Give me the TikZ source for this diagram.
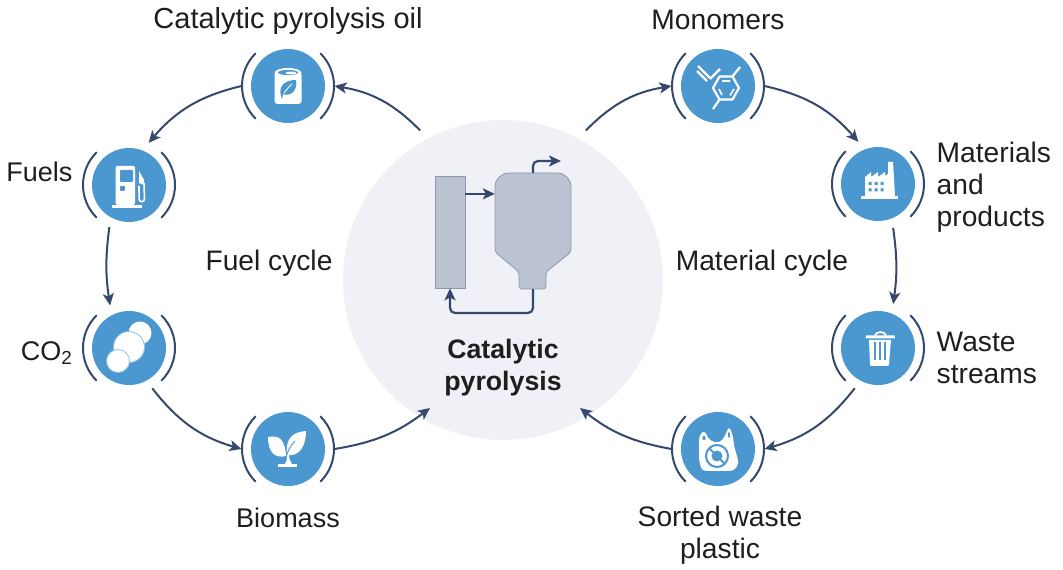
\documentclass[tikz,border=0pt]{standalone}
\usepackage{fontspec}
\setmainfont{Liberation Sans}
\usetikzlibrary{arrows.meta,positioning}
\definecolor{navy}{HTML}{34496B}
\definecolor{iconblue}{HTML}{4B97D0}
\definecolor{hubgrey}{HTML}{EFF1F6}
\definecolor{steel}{HTML}{BBC3D2}
\definecolor{steelline}{HTML}{8D99AF}
\definecolor{inktext}{HTML}{1E1E1E}
\tikzset{
  icon/.style={circle,fill=iconblue,minimum size=74pt,inner sep=0pt,outer sep=9.5pt},
  bracket/.style={draw=navy,line width=2pt,line cap=round},
  flow/.style={draw=navy,line width=2pt,-{Stealth[length=12pt,width=11pt,inset=3pt]}},
  pipe/.style={draw=navy,line width=2.2pt,rounded corners=5pt,-{Stealth[length=12pt,width=11pt,inset=3pt]}},
  lbl/.style={inner sep=0pt,text=inktext,align=left},
  lblmid/.style={inner sep=0pt,text=inktext,align=center}
}
\begin{document}
\begin{tikzpicture}[x=1pt,y=1pt,every node/.style={font=\fontsize{28.2}{32}\selectfont}]
\useasboundingbox (0,0) rectangle (1063,570);
\node[circle,fill=hubgrey,minimum size=320pt,inner sep=0pt,outer sep=11pt] (hub) at (503,290) {};
\coordinate (backleft) at (430,162);
\coordinate (backright) at (580,162);

% reactor
\node[draw=steelline,fill=steel,line width=0.8pt,minimum width=30pt,minimum height=112pt,inner sep=0pt] (column) at (450,338) {};
\draw[draw=steelline,fill=steel,line width=0.8pt,rounded corners=3pt] (519,281) -- (519,298) -- (495,318) -- (495,350) [rounded corners=14pt] -- (495,397) -- (571,397) -- (571,350) [rounded corners=3pt] -- (571,318) -- (546,298) -- (546,281) -- cycle;
\node[minimum width=76pt,minimum height=116pt,inner sep=0pt] (vessel) at (533,339) {};
\coordinate (vent) at (561,409);
\coordinate (recycle) at (450,257);
\draw[pipe] (column.68) -- (vessel.west |- column.68);
\draw[pipe] (vessel.north) |- (vent);
\draw[pipe] (vessel.south) |- (recycle) -- (column.south);

\node[lblmid,font=\fontsize{26.7}{32}\selectfont\bfseries] (hubname) at (503,202) {Catalytic\\pyrolysis};
\node[lblmid] (fuelcycle) at (269,307) {Fuel cycle};
\node[lblmid] (materialcycle) at (762,307) {Material cycle};

% icons
\node[icon] (oil) at (288,484) {};
\node[icon] (fuels) at (129,385) {};
\node[icon] (co2) at (129,222) {};
\node[icon] (biomass) at (288,121) {};
\node[icon] (monomers) at (718,484) {};
\node[icon] (factory) at (878,386) {};
\node[icon] (waste) at (878,222) {};
\node[icon] (plastic) at (718,121) {};

\draw[bracket,shift={(oil)}] (135:46) arc (135:225:46) (-45:46) arc (-45:45:46);
\draw[bracket,shift={(fuels)}] (135:46) arc (135:225:46) (-45:46) arc (-45:45:46);
\draw[bracket,shift={(co2)}] (135:46) arc (135:225:46) (-45:46) arc (-45:45:46);
\draw[bracket,shift={(biomass)}] (135:46) arc (135:225:46) (-45:46) arc (-45:45:46);
\draw[bracket,shift={(monomers)}] (135:46) arc (135:225:46) (-45:46) arc (-45:45:46);
\draw[bracket,shift={(factory)}] (135:46) arc (135:225:46) (-45:46) arc (-45:45:46);
\draw[bracket,shift={(waste)}] (135:46) arc (135:225:46) (-45:46) arc (-45:45:46);
\draw[bracket,shift={(plastic)}] (135:46) arc (135:225:46) (-45:46) arc (-45:45:46);

% barrel
\begin{scope}[shift={(oil)}]
\fill[white,rounded corners=3pt] (-13.5,-18) rectangle (13.5,14);
\fill[white] (0,13) ellipse (13.5 and 5);
\fill[iconblue] (0,13.5) ellipse (10 and 2.6);
\fill[white] (3,13) ellipse (5.5 and 1.4);
\fill[iconblue] (-7,-10) .. controls (-10,0) and (-3,6) .. (8,6) .. controls (10,-4) and (3,-11) .. (-5,-8) -- (-6,-13) -- cycle;
\draw[white,line width=0.9pt] (-4,-7) .. controls (-1,-3) and (1,-1) .. (4,2);
\end{scope}

% pump
\begin{scope}[shift={(fuels)}]
\fill[white,rounded corners=1.5pt] (-13.5,19) rectangle (6,-20);
\fill[white] (-17,-20) rectangle (13,-23);
\fill[iconblue,rounded corners=1pt] (-9,15) rectangle (4,3);
\fill[iconblue,rounded corners=1pt] (-9,-1) rectangle (-4,-6);
\fill[white] (10,14) -- (15,5) -- (15,0) -- (10,2) -- cycle;
\draw[white,line width=1.6pt] (15,2) -- (15.5,-14) arc (0:-180:2.7) -- (10,-1);
\end{scope}

% gas bubbles
\begin{scope}[shift={(co2)}]
\fill[white] (11,15) circle (11.5);
\fill[white,draw=iconblue!60,line width=0.8pt] (0,1) circle (15.5);
\fill[white,draw=iconblue!60,line width=0.8pt] (-11,-13) circle (11.5);
\end{scope}

% seedling
\begin{scope}[shift={(biomass)}]
\fill[white] (-10,-15) rectangle (9,-18.5);
\fill[white] (-3,-15) .. controls (-1,-12) and (-1,-10) .. (-1,-5) -- (1,-5) .. controls (1,-10) and (2,-12) .. (4,-15) -- cycle;
\fill[white] (-20,12) .. controls (-10,14) and (-3,11) .. (-2,-7) .. controls (-14,-10) and (-20,-2) .. (-20,12) -- cycle;
\fill[white] (18,18) .. controls (6,17) and (-3,12) .. (-1,-6) .. controls (12,-8) and (18,4) .. (18,18) -- cycle;
\draw[iconblue,line width=0.9pt] (-2,-8) .. controls (0,-2) and (2,3) .. (7,8);
\end{scope}

% molecule
\begin{scope}[shift={(monomers)}]
\draw[white,line width=2.2pt,line join=round] (21,-2) -- (14.5,9.5) -- (1.5,9.5) -- (-5,-2) -- (1.5,-13.5) -- (14.5,-13.5) -- cycle;
\draw[white,line width=1.6pt] (4,5) -- (12,5) (16,-3) -- (12,-9.5) (4,-9) -- (1,-3);
\draw[white,line width=2.2pt] (14.5,9.5) -- (22,19) (1.5,-13.5) -- (-5,-23);
\draw[white,line width=2.2pt] (-20,20) -- (-8,8) (-21,15) -- (-11,5) (-8,7) -- (2,17);
\end{scope}

% factory
\begin{scope}[shift={(factory)}]
\fill[white] (-17,-12) rectangle (20,-15);
\fill[white] (-13,-12) -- (-13,7) -- (-7,12) -- (-7,7) -- (0,12) -- (0,7) -- (7,12) -- (7,-12) -- cycle;
\fill[white] (5,-12) -- (5,7) -- (10,10) -- (10,22) -- (15,22) -- (17,-12) -- cycle;
\fill[iconblue] (-9.5,-0.8) rectangle (-6.5,2.2) (-3.5,-0.8) rectangle (-0.5,2.2) (2.5,-0.8) rectangle (5.5,2.2);
\fill[iconblue] (-9.5,-7.5) rectangle (-6.5,-4.5) (-3.5,-7.5) rectangle (-0.5,-4.5) (2.5,-7.5) rectangle (5.5,-4.5);
\end{scope}

% bin
\begin{scope}[shift={(waste)}]
\fill[white] (-9,8) -- (13,8) -- (11,-16) .. controls (11,-18) and (10,-18) .. (9,-18) -- (-6,-18) .. controls (-7,-18) and (-8,-18) .. (-8,-16) -- cycle;
\fill[white] (-12,12.5) -- (16.5,12.5) -- (17,9.5) -- (-12.5,9.5) -- cycle;
\draw[white,line width=1.8pt] (-3,12.5) .. controls (-2,17) and (7,17) .. (8,12.5);
\draw[iconblue,line width=1.6pt] (-3,6) -- (-3,-12) (2.2,6) -- (2.2,-12) (7,6) -- (7,-12);
\end{scope}

% carrier bag
\begin{scope}[shift={(plastic)}]
\fill[white,rounded corners=4pt] (-14,19) -- (-8,8) -- (2,6) -- (7,13) -- (11,23) -- (15,13) -- (16,3) -- (21,-14) -- (16,-22) -- (-16,-22) -- (-19,-12) -- (-19,3) -- (-19,13) -- cycle;
\fill[iconblue] (-14,11) ellipse (1.6 and 2.2);
\fill[iconblue] (11,14) ellipse (1 and 3);
\draw[iconblue,line width=2pt] (-1,-7) circle (11);
\fill[iconblue] (-1,-7) circle (5.5);
\draw[white,line width=1.2pt] (-7,-2) -- (5,-12);
\draw[iconblue,line width=2pt] (-8.5,0.5) -- (6.5,-14.5);
\end{scope}

% labels
\node[lbl,above=5pt of oil,font=\fontsize{29}{32}\selectfont] (oillabel) {Catalytic pyrolysis oil};
\node[lbl,left=10pt of fuels,yshift=13pt,font=\fontsize{27}{32}\selectfont] (fuelslabel) {Fuels};
\node[lbl,left=10pt of co2,yshift=-5pt,font=\fontsize{27}{32}\selectfont] (co2label) {CO\textsubscript{2}};
\node[lbl,below=12pt of biomass,font=\fontsize{27}{32}\selectfont] (biomasslabel) {Biomass};
\node[lbl,above=10pt of monomers] (monomerslabel) {Monomers};
\node[lbl,right=12pt of factory,yshift=-3pt] (factorylabel) {Materials\\and\\products};
\node[lbl,right=12pt of waste,yshift=-10pt] (wastelabel) {Waste\\streams};
\node[lblmid,below=10pt of plastic,xshift=2pt] (plasticlabel) {Sorted waste\\plastic};

% cycles
\draw[flow] (hub.119) to[bend right=18] (oil.0);
\draw[flow] (oil.180) to[bend right=18] (fuels.65);
\draw[flow] (fuels.245) to[bend right=8] (co2.114);
\draw[flow] (co2.300) to[bend right=18] (biomass.180);
\draw[flow] (biomass.0) to[bend right=14] (backleft);
\draw[flow] (hub.61) to[bend left=18] (monomers.180);
\draw[flow] (monomers.0) to[bend left=18] (factory.115);
\draw[flow] (factory.289) to[bend left=8] (waste.71);
\draw[flow] (waste.240) to[bend left=18] (plastic.0);
\draw[flow] (plastic.180) to[bend left=14] (backright);
\end{tikzpicture}
\end{document}
